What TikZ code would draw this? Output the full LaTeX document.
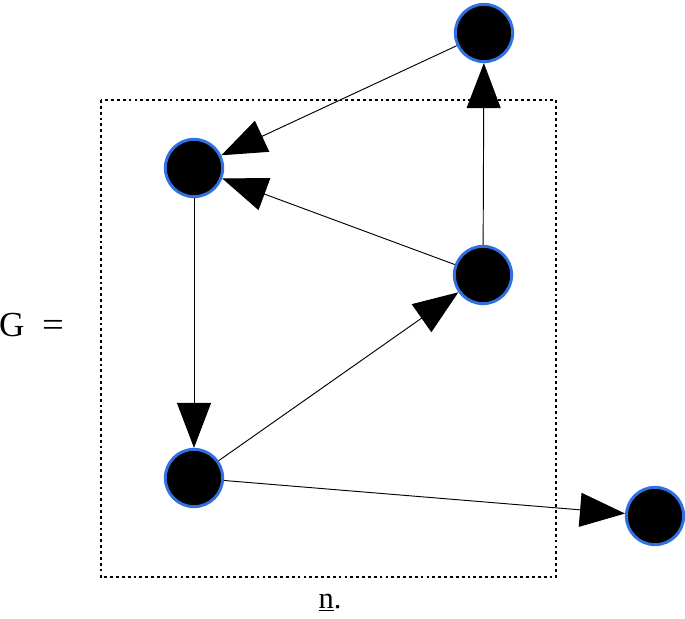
\documentclass[tikz,border=0pt]{standalone}
\usepackage{fontspec}
\setmainfont{Liberation Serif}
\usetikzlibrary{arrows.meta}
\definecolor{vertblue}{RGB}{48,112,224}
\tikzset{
  vertex/.style={circle,fill=black,draw=vertblue,line width=2.5pt,minimum size=1.72cm,inner sep=0pt},
  edge/.style={line width=0.8pt,-{Triangle[length=1.35cm,width=1.02cm]}}
}
\begin{document}
\begin{tikzpicture}[x=0.03cm,y=-0.03cm]
                \useasboundingbox (0,0) rectangle (685,618);
                %% dotted frame
                \draw[line width=2.4pt,dash pattern=on 2.4pt off 2.6pt] (101,100) rectangle (556,577);
                %% vertices
                \node[vertex] (top) at (484,33) {};
                \node[vertex] (left) at (194,168) {};
                \node[vertex] (mid) at (483,275) {};
                \node[vertex] (low) at (194,478) {};
                \node[vertex] (out) at (655,516) {};
                %% labels
                \node[font=\fontsize{30}{34}\selectfont,anchor=west,inner sep=0pt] (gname) at (-1,325) {G\hspace{0.5em}\scalebox{1.1}[1]{=}};
                \node[font=\fontsize{26}{30}\selectfont,anchor=south,inner sep=0pt] (nlabel) at (330,611) {\underline{n}.};
                %% edges
                \draw[edge] (top) -- (left);
                \draw[edge] (mid) -- (left);
                \draw[edge] (left) -- (low);
                \draw[edge] (low) -- (mid);
                \draw[edge] (mid) -- (top);
                \draw[edge] (low) -- (out);
            \end{tikzpicture}
\end{document}
